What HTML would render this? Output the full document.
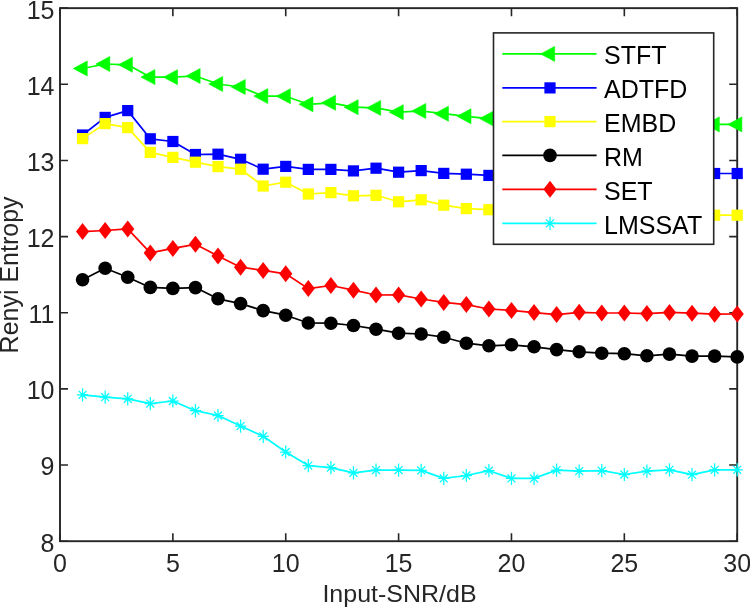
<!DOCTYPE html><html><head><meta charset="utf-8"><style>html,body{margin:0;padding:0;background:#fff;}svg{display:block;filter:blur(0.4px);}</style></head><body>
<svg width="750" height="608" viewBox="0 0 750 608">
<rect width="750" height="608" fill="#fff"/>
<rect x="60.00" y="8.15" width="677.20" height="533.05" fill="none" stroke="#262626" stroke-width="1.9"/>
<path d="M60.00 541.20V533.20M60.00 8.15V16.15M172.87 541.20V533.20M172.87 8.15V16.15M285.73 541.20V533.20M285.73 8.15V16.15M398.60 541.20V533.20M398.60 8.15V16.15M511.47 541.20V533.20M511.47 8.15V16.15M624.33 541.20V533.20M624.33 8.15V16.15M737.20 541.20V533.20M737.20 8.15V16.15M60.00 541.20H68.00M737.20 541.20H729.20M60.00 465.05H68.00M737.20 465.05H729.20M60.00 388.90H68.00M737.20 388.90H729.20M60.00 312.75H68.00M737.20 312.75H729.20M60.00 236.60H68.00M737.20 236.60H729.20M60.00 160.45H68.00M737.20 160.45H729.20M60.00 84.30H68.00M737.20 84.30H729.20M60.00 8.15H68.00M737.20 8.15H729.20" stroke="#262626" stroke-width="1.6" fill="none"/>
<text x="60.00" y="571.5" font-family="Liberation Sans, sans-serif" font-size="25" fill="#262626" text-anchor="middle">0</text>
<text x="172.87" y="571.5" font-family="Liberation Sans, sans-serif" font-size="25" fill="#262626" text-anchor="middle">5</text>
<text x="285.73" y="571.5" font-family="Liberation Sans, sans-serif" font-size="25" fill="#262626" text-anchor="middle">10</text>
<text x="398.60" y="571.5" font-family="Liberation Sans, sans-serif" font-size="25" fill="#262626" text-anchor="middle">15</text>
<text x="511.47" y="571.5" font-family="Liberation Sans, sans-serif" font-size="25" fill="#262626" text-anchor="middle">20</text>
<text x="624.33" y="571.5" font-family="Liberation Sans, sans-serif" font-size="25" fill="#262626" text-anchor="middle">25</text>
<text x="737.20" y="571.5" font-family="Liberation Sans, sans-serif" font-size="25" fill="#262626" text-anchor="middle">30</text>
<text x="54.5" y="551.60" font-family="Liberation Sans, sans-serif" font-size="25" fill="#262626" text-anchor="end">8</text>
<text x="54.5" y="475.45" font-family="Liberation Sans, sans-serif" font-size="25" fill="#262626" text-anchor="end">9</text>
<text x="54.5" y="399.30" font-family="Liberation Sans, sans-serif" font-size="25" fill="#262626" text-anchor="end">10</text>
<text x="54.5" y="323.15" font-family="Liberation Sans, sans-serif" font-size="25" fill="#262626" text-anchor="end">11</text>
<text x="54.5" y="247.00" font-family="Liberation Sans, sans-serif" font-size="25" fill="#262626" text-anchor="end">12</text>
<text x="54.5" y="170.85" font-family="Liberation Sans, sans-serif" font-size="25" fill="#262626" text-anchor="end">13</text>
<text x="54.5" y="94.70" font-family="Liberation Sans, sans-serif" font-size="25" fill="#262626" text-anchor="end">14</text>
<text x="54.5" y="18.55" font-family="Liberation Sans, sans-serif" font-size="25" fill="#262626" text-anchor="end">15</text>
<text transform="translate(399.5,602.3) scale(1,0.975)" x="0" y="0" font-family="Liberation Sans, sans-serif" font-size="25" fill="#262626" text-anchor="middle">Input-SNR/dB</text>
<text transform="translate(17.9,274.9) rotate(-90)" x="0" y="0" font-family="Liberation Sans, sans-serif" font-size="25" fill="#262626" text-anchor="middle">Renyi Entropy</text>
<polyline points="82.57,68.50 105.15,64.00 127.72,64.80 150.29,77.10 172.87,77.20 195.44,76.00 218.01,84.00 240.59,87.00 263.16,96.10 285.73,96.20 308.31,104.30 330.88,102.80 353.45,107.20 376.03,107.90 398.60,112.20 421.17,111.00 443.75,113.70 466.32,116.30 488.89,118.60 511.47,119.50 534.04,120.20 556.61,121.00 579.19,121.60 601.76,122.20 624.33,122.80 646.91,123.30 669.48,123.80 692.05,124.20 714.63,124.40 737.20,124.40" fill="none" stroke="#00FF00" stroke-width="1.7" stroke-linejoin="round"/>
<path d="M73.24 68.50L87.24 61.00L87.24 76.00Z" fill="#00FF00" stroke="#00FF00" stroke-width="0.6"/>
<path d="M95.81 64.00L109.81 56.50L109.81 71.50Z" fill="#00FF00" stroke="#00FF00" stroke-width="0.6"/>
<path d="M118.39 64.80L132.39 57.30L132.39 72.30Z" fill="#00FF00" stroke="#00FF00" stroke-width="0.6"/>
<path d="M140.96 77.10L154.96 69.60L154.96 84.60Z" fill="#00FF00" stroke="#00FF00" stroke-width="0.6"/>
<path d="M163.53 77.20L177.53 69.70L177.53 84.70Z" fill="#00FF00" stroke="#00FF00" stroke-width="0.6"/>
<path d="M186.11 76.00L200.11 68.50L200.11 83.50Z" fill="#00FF00" stroke="#00FF00" stroke-width="0.6"/>
<path d="M208.68 84.00L222.68 76.50L222.68 91.50Z" fill="#00FF00" stroke="#00FF00" stroke-width="0.6"/>
<path d="M231.25 87.00L245.25 79.50L245.25 94.50Z" fill="#00FF00" stroke="#00FF00" stroke-width="0.6"/>
<path d="M253.83 96.10L267.83 88.60L267.83 103.60Z" fill="#00FF00" stroke="#00FF00" stroke-width="0.6"/>
<path d="M276.40 96.20L290.40 88.70L290.40 103.70Z" fill="#00FF00" stroke="#00FF00" stroke-width="0.6"/>
<path d="M298.97 104.30L312.97 96.80L312.97 111.80Z" fill="#00FF00" stroke="#00FF00" stroke-width="0.6"/>
<path d="M321.55 102.80L335.55 95.30L335.55 110.30Z" fill="#00FF00" stroke="#00FF00" stroke-width="0.6"/>
<path d="M344.12 107.20L358.12 99.70L358.12 114.70Z" fill="#00FF00" stroke="#00FF00" stroke-width="0.6"/>
<path d="M366.69 107.90L380.69 100.40L380.69 115.40Z" fill="#00FF00" stroke="#00FF00" stroke-width="0.6"/>
<path d="M389.27 112.20L403.27 104.70L403.27 119.70Z" fill="#00FF00" stroke="#00FF00" stroke-width="0.6"/>
<path d="M411.84 111.00L425.84 103.50L425.84 118.50Z" fill="#00FF00" stroke="#00FF00" stroke-width="0.6"/>
<path d="M434.41 113.70L448.41 106.20L448.41 121.20Z" fill="#00FF00" stroke="#00FF00" stroke-width="0.6"/>
<path d="M456.99 116.30L470.99 108.80L470.99 123.80Z" fill="#00FF00" stroke="#00FF00" stroke-width="0.6"/>
<path d="M479.56 118.60L493.56 111.10L493.56 126.10Z" fill="#00FF00" stroke="#00FF00" stroke-width="0.6"/>
<path d="M502.13 119.50L516.13 112.00L516.13 127.00Z" fill="#00FF00" stroke="#00FF00" stroke-width="0.6"/>
<path d="M524.71 120.20L538.71 112.70L538.71 127.70Z" fill="#00FF00" stroke="#00FF00" stroke-width="0.6"/>
<path d="M547.28 121.00L561.28 113.50L561.28 128.50Z" fill="#00FF00" stroke="#00FF00" stroke-width="0.6"/>
<path d="M569.85 121.60L583.85 114.10L583.85 129.10Z" fill="#00FF00" stroke="#00FF00" stroke-width="0.6"/>
<path d="M592.43 122.20L606.43 114.70L606.43 129.70Z" fill="#00FF00" stroke="#00FF00" stroke-width="0.6"/>
<path d="M615.00 122.80L629.00 115.30L629.00 130.30Z" fill="#00FF00" stroke="#00FF00" stroke-width="0.6"/>
<path d="M637.57 123.30L651.57 115.80L651.57 130.80Z" fill="#00FF00" stroke="#00FF00" stroke-width="0.6"/>
<path d="M660.15 123.80L674.15 116.30L674.15 131.30Z" fill="#00FF00" stroke="#00FF00" stroke-width="0.6"/>
<path d="M682.72 124.20L696.72 116.70L696.72 131.70Z" fill="#00FF00" stroke="#00FF00" stroke-width="0.6"/>
<path d="M705.29 124.40L719.29 116.90L719.29 131.90Z" fill="#00FF00" stroke="#00FF00" stroke-width="0.6"/>
<path d="M727.87 124.40L741.87 116.90L741.87 131.90Z" fill="#00FF00" stroke="#00FF00" stroke-width="0.6"/>
<polyline points="82.57,135.00 105.15,117.40 127.72,110.60 150.29,138.80 172.87,141.50 195.44,154.50 218.01,154.20 240.59,159.30 263.16,169.20 285.73,166.40 308.31,169.40 330.88,169.40 353.45,170.90 376.03,168.20 398.60,172.20 421.17,170.60 443.75,173.40 466.32,174.20 488.89,175.40 511.47,175.00 534.04,174.80 556.61,174.60 579.19,174.40 601.76,174.20 624.33,174.00 646.91,173.80 669.48,173.60 692.05,173.50 714.63,173.50 737.20,173.50" fill="none" stroke="#0000FF" stroke-width="1.7" stroke-linejoin="round"/>
<rect x="76.97" y="129.40" width="11.20" height="11.20" fill="#0000FF"/>
<rect x="99.55" y="111.80" width="11.20" height="11.20" fill="#0000FF"/>
<rect x="122.12" y="105.00" width="11.20" height="11.20" fill="#0000FF"/>
<rect x="144.69" y="133.20" width="11.20" height="11.20" fill="#0000FF"/>
<rect x="167.27" y="135.90" width="11.20" height="11.20" fill="#0000FF"/>
<rect x="189.84" y="148.90" width="11.20" height="11.20" fill="#0000FF"/>
<rect x="212.41" y="148.60" width="11.20" height="11.20" fill="#0000FF"/>
<rect x="234.99" y="153.70" width="11.20" height="11.20" fill="#0000FF"/>
<rect x="257.56" y="163.60" width="11.20" height="11.20" fill="#0000FF"/>
<rect x="280.13" y="160.80" width="11.20" height="11.20" fill="#0000FF"/>
<rect x="302.71" y="163.80" width="11.20" height="11.20" fill="#0000FF"/>
<rect x="325.28" y="163.80" width="11.20" height="11.20" fill="#0000FF"/>
<rect x="347.85" y="165.30" width="11.20" height="11.20" fill="#0000FF"/>
<rect x="370.43" y="162.60" width="11.20" height="11.20" fill="#0000FF"/>
<rect x="393.00" y="166.60" width="11.20" height="11.20" fill="#0000FF"/>
<rect x="415.57" y="165.00" width="11.20" height="11.20" fill="#0000FF"/>
<rect x="438.15" y="167.80" width="11.20" height="11.20" fill="#0000FF"/>
<rect x="460.72" y="168.60" width="11.20" height="11.20" fill="#0000FF"/>
<rect x="483.29" y="169.80" width="11.20" height="11.20" fill="#0000FF"/>
<rect x="505.87" y="169.40" width="11.20" height="11.20" fill="#0000FF"/>
<rect x="528.44" y="169.20" width="11.20" height="11.20" fill="#0000FF"/>
<rect x="551.01" y="169.00" width="11.20" height="11.20" fill="#0000FF"/>
<rect x="573.59" y="168.80" width="11.20" height="11.20" fill="#0000FF"/>
<rect x="596.16" y="168.60" width="11.20" height="11.20" fill="#0000FF"/>
<rect x="618.73" y="168.40" width="11.20" height="11.20" fill="#0000FF"/>
<rect x="641.31" y="168.20" width="11.20" height="11.20" fill="#0000FF"/>
<rect x="663.88" y="168.00" width="11.20" height="11.20" fill="#0000FF"/>
<rect x="686.45" y="167.90" width="11.20" height="11.20" fill="#0000FF"/>
<rect x="709.03" y="167.90" width="11.20" height="11.20" fill="#0000FF"/>
<rect x="731.60" y="167.90" width="11.20" height="11.20" fill="#0000FF"/>
<polyline points="82.57,138.60 105.15,123.60 127.72,127.60 150.29,152.40 172.87,157.40 195.44,162.20 218.01,166.60 240.59,169.20 263.16,186.00 285.73,182.20 308.31,194.00 330.88,192.60 353.45,195.80 376.03,195.30 398.60,201.80 421.17,199.80 443.75,205.20 466.32,208.60 488.89,209.70 511.47,210.20 534.04,210.80 556.61,211.40 579.19,212.00 601.76,212.60 624.33,213.20 646.91,213.80 669.48,214.40 692.05,215.00 714.63,215.20 737.20,215.20" fill="none" stroke="#FFFF00" stroke-width="1.7" stroke-linejoin="round"/>
<rect x="76.97" y="133.00" width="11.20" height="11.20" fill="#FFFF00"/>
<rect x="99.55" y="118.00" width="11.20" height="11.20" fill="#FFFF00"/>
<rect x="122.12" y="122.00" width="11.20" height="11.20" fill="#FFFF00"/>
<rect x="144.69" y="146.80" width="11.20" height="11.20" fill="#FFFF00"/>
<rect x="167.27" y="151.80" width="11.20" height="11.20" fill="#FFFF00"/>
<rect x="189.84" y="156.60" width="11.20" height="11.20" fill="#FFFF00"/>
<rect x="212.41" y="161.00" width="11.20" height="11.20" fill="#FFFF00"/>
<rect x="234.99" y="163.60" width="11.20" height="11.20" fill="#FFFF00"/>
<rect x="257.56" y="180.40" width="11.20" height="11.20" fill="#FFFF00"/>
<rect x="280.13" y="176.60" width="11.20" height="11.20" fill="#FFFF00"/>
<rect x="302.71" y="188.40" width="11.20" height="11.20" fill="#FFFF00"/>
<rect x="325.28" y="187.00" width="11.20" height="11.20" fill="#FFFF00"/>
<rect x="347.85" y="190.20" width="11.20" height="11.20" fill="#FFFF00"/>
<rect x="370.43" y="189.70" width="11.20" height="11.20" fill="#FFFF00"/>
<rect x="393.00" y="196.20" width="11.20" height="11.20" fill="#FFFF00"/>
<rect x="415.57" y="194.20" width="11.20" height="11.20" fill="#FFFF00"/>
<rect x="438.15" y="199.60" width="11.20" height="11.20" fill="#FFFF00"/>
<rect x="460.72" y="203.00" width="11.20" height="11.20" fill="#FFFF00"/>
<rect x="483.29" y="204.10" width="11.20" height="11.20" fill="#FFFF00"/>
<rect x="505.87" y="204.60" width="11.20" height="11.20" fill="#FFFF00"/>
<rect x="528.44" y="205.20" width="11.20" height="11.20" fill="#FFFF00"/>
<rect x="551.01" y="205.80" width="11.20" height="11.20" fill="#FFFF00"/>
<rect x="573.59" y="206.40" width="11.20" height="11.20" fill="#FFFF00"/>
<rect x="596.16" y="207.00" width="11.20" height="11.20" fill="#FFFF00"/>
<rect x="618.73" y="207.60" width="11.20" height="11.20" fill="#FFFF00"/>
<rect x="641.31" y="208.20" width="11.20" height="11.20" fill="#FFFF00"/>
<rect x="663.88" y="208.80" width="11.20" height="11.20" fill="#FFFF00"/>
<rect x="686.45" y="209.40" width="11.20" height="11.20" fill="#FFFF00"/>
<rect x="709.03" y="209.60" width="11.20" height="11.20" fill="#FFFF00"/>
<rect x="731.60" y="209.60" width="11.20" height="11.20" fill="#FFFF00"/>
<polyline points="82.57,279.70 105.15,268.20 127.72,277.20 150.29,287.40 172.87,288.40 195.44,287.60 218.01,298.80 240.59,303.60 263.16,310.60 285.73,315.20 308.31,323.00 330.88,323.20 353.45,325.50 376.03,329.20 398.60,333.20 421.17,334.00 443.75,337.20 466.32,343.20 488.89,345.80 511.47,344.80 534.04,346.80 556.61,349.60 579.19,351.80 601.76,353.20 624.33,353.70 646.91,355.80 669.48,354.10 692.05,356.10 714.63,356.10 737.20,356.90" fill="none" stroke="#000000" stroke-width="1.7" stroke-linejoin="round"/>
<circle cx="82.57" cy="279.70" r="6.80" fill="#000000"/>
<circle cx="105.15" cy="268.20" r="6.80" fill="#000000"/>
<circle cx="127.72" cy="277.20" r="6.80" fill="#000000"/>
<circle cx="150.29" cy="287.40" r="6.80" fill="#000000"/>
<circle cx="172.87" cy="288.40" r="6.80" fill="#000000"/>
<circle cx="195.44" cy="287.60" r="6.80" fill="#000000"/>
<circle cx="218.01" cy="298.80" r="6.80" fill="#000000"/>
<circle cx="240.59" cy="303.60" r="6.80" fill="#000000"/>
<circle cx="263.16" cy="310.60" r="6.80" fill="#000000"/>
<circle cx="285.73" cy="315.20" r="6.80" fill="#000000"/>
<circle cx="308.31" cy="323.00" r="6.80" fill="#000000"/>
<circle cx="330.88" cy="323.20" r="6.80" fill="#000000"/>
<circle cx="353.45" cy="325.50" r="6.80" fill="#000000"/>
<circle cx="376.03" cy="329.20" r="6.80" fill="#000000"/>
<circle cx="398.60" cy="333.20" r="6.80" fill="#000000"/>
<circle cx="421.17" cy="334.00" r="6.80" fill="#000000"/>
<circle cx="443.75" cy="337.20" r="6.80" fill="#000000"/>
<circle cx="466.32" cy="343.20" r="6.80" fill="#000000"/>
<circle cx="488.89" cy="345.80" r="6.80" fill="#000000"/>
<circle cx="511.47" cy="344.80" r="6.80" fill="#000000"/>
<circle cx="534.04" cy="346.80" r="6.80" fill="#000000"/>
<circle cx="556.61" cy="349.60" r="6.80" fill="#000000"/>
<circle cx="579.19" cy="351.80" r="6.80" fill="#000000"/>
<circle cx="601.76" cy="353.20" r="6.80" fill="#000000"/>
<circle cx="624.33" cy="353.70" r="6.80" fill="#000000"/>
<circle cx="646.91" cy="355.80" r="6.80" fill="#000000"/>
<circle cx="669.48" cy="354.10" r="6.80" fill="#000000"/>
<circle cx="692.05" cy="356.10" r="6.80" fill="#000000"/>
<circle cx="714.63" cy="356.10" r="6.80" fill="#000000"/>
<circle cx="737.20" cy="356.90" r="6.80" fill="#000000"/>
<polyline points="82.57,231.60 105.15,230.50 127.72,228.90 150.29,252.90 172.87,248.40 195.44,244.30 218.01,256.00 240.59,267.20 263.16,270.40 285.73,273.80 308.31,288.60 330.88,285.50 353.45,290.20 376.03,295.00 398.60,294.90 421.17,299.00 443.75,302.40 466.32,304.60 488.89,309.00 511.47,310.40 534.04,312.60 556.61,314.60 579.19,312.30 601.76,313.00 624.33,313.00 646.91,313.60 669.48,312.40 692.05,313.20 714.63,314.20 737.20,314.00" fill="none" stroke="#FF0000" stroke-width="1.7" stroke-linejoin="round"/>
<path d="M82.57 223.10L89.17 231.60L82.57 240.10L75.97 231.60Z" fill="#FF0000"/>
<path d="M105.15 222.00L111.75 230.50L105.15 239.00L98.55 230.50Z" fill="#FF0000"/>
<path d="M127.72 220.40L134.32 228.90L127.72 237.40L121.12 228.90Z" fill="#FF0000"/>
<path d="M150.29 244.40L156.89 252.90L150.29 261.40L143.69 252.90Z" fill="#FF0000"/>
<path d="M172.87 239.90L179.47 248.40L172.87 256.90L166.27 248.40Z" fill="#FF0000"/>
<path d="M195.44 235.80L202.04 244.30L195.44 252.80L188.84 244.30Z" fill="#FF0000"/>
<path d="M218.01 247.50L224.61 256.00L218.01 264.50L211.41 256.00Z" fill="#FF0000"/>
<path d="M240.59 258.70L247.19 267.20L240.59 275.70L233.99 267.20Z" fill="#FF0000"/>
<path d="M263.16 261.90L269.76 270.40L263.16 278.90L256.56 270.40Z" fill="#FF0000"/>
<path d="M285.73 265.30L292.33 273.80L285.73 282.30L279.13 273.80Z" fill="#FF0000"/>
<path d="M308.31 280.10L314.91 288.60L308.31 297.10L301.71 288.60Z" fill="#FF0000"/>
<path d="M330.88 277.00L337.48 285.50L330.88 294.00L324.28 285.50Z" fill="#FF0000"/>
<path d="M353.45 281.70L360.05 290.20L353.45 298.70L346.85 290.20Z" fill="#FF0000"/>
<path d="M376.03 286.50L382.63 295.00L376.03 303.50L369.43 295.00Z" fill="#FF0000"/>
<path d="M398.60 286.40L405.20 294.90L398.60 303.40L392.00 294.90Z" fill="#FF0000"/>
<path d="M421.17 290.50L427.77 299.00L421.17 307.50L414.57 299.00Z" fill="#FF0000"/>
<path d="M443.75 293.90L450.35 302.40L443.75 310.90L437.15 302.40Z" fill="#FF0000"/>
<path d="M466.32 296.10L472.92 304.60L466.32 313.10L459.72 304.60Z" fill="#FF0000"/>
<path d="M488.89 300.50L495.49 309.00L488.89 317.50L482.29 309.00Z" fill="#FF0000"/>
<path d="M511.47 301.90L518.07 310.40L511.47 318.90L504.87 310.40Z" fill="#FF0000"/>
<path d="M534.04 304.10L540.64 312.60L534.04 321.10L527.44 312.60Z" fill="#FF0000"/>
<path d="M556.61 306.10L563.21 314.60L556.61 323.10L550.01 314.60Z" fill="#FF0000"/>
<path d="M579.19 303.80L585.79 312.30L579.19 320.80L572.59 312.30Z" fill="#FF0000"/>
<path d="M601.76 304.50L608.36 313.00L601.76 321.50L595.16 313.00Z" fill="#FF0000"/>
<path d="M624.33 304.50L630.93 313.00L624.33 321.50L617.73 313.00Z" fill="#FF0000"/>
<path d="M646.91 305.10L653.51 313.60L646.91 322.10L640.31 313.60Z" fill="#FF0000"/>
<path d="M669.48 303.90L676.08 312.40L669.48 320.90L662.88 312.40Z" fill="#FF0000"/>
<path d="M692.05 304.70L698.65 313.20L692.05 321.70L685.45 313.20Z" fill="#FF0000"/>
<path d="M714.63 305.70L721.23 314.20L714.63 322.70L708.03 314.20Z" fill="#FF0000"/>
<path d="M737.20 305.50L743.80 314.00L737.20 322.50L730.60 314.00Z" fill="#FF0000"/>
<polyline points="82.57,394.80 105.15,397.20 127.72,398.80 150.29,403.60 172.87,401.00 195.44,410.70 218.01,415.50 240.59,426.10 263.16,436.30 285.73,452.00 308.31,465.60 330.88,467.70 353.45,472.80 376.03,470.10 398.60,470.10 421.17,470.40 443.75,478.40 466.32,475.50 488.89,470.70 511.47,478.40 534.04,478.40 556.61,470.10 579.19,471.20 601.76,470.70 624.33,474.50 646.91,471.20 669.48,469.80 692.05,474.70 714.63,469.80 737.20,469.80" fill="none" stroke="#00FFFF" stroke-width="1.7" stroke-linejoin="round"/>
<path d="M76.97 394.80L88.17 394.80M82.57 388.20L82.57 401.40M78.61 390.84L86.53 398.76M78.61 398.76L86.53 390.84" stroke="#00FFFF" stroke-width="1.25" fill="none"/>
<path d="M99.55 397.20L110.75 397.20M105.15 390.60L105.15 403.80M101.19 393.24L109.11 401.16M101.19 401.16L109.11 393.24" stroke="#00FFFF" stroke-width="1.25" fill="none"/>
<path d="M122.12 398.80L133.32 398.80M127.72 392.20L127.72 405.40M123.76 394.84L131.68 402.76M123.76 402.76L131.68 394.84" stroke="#00FFFF" stroke-width="1.25" fill="none"/>
<path d="M144.69 403.60L155.89 403.60M150.29 397.00L150.29 410.20M146.33 399.64L154.25 407.56M146.33 407.56L154.25 399.64" stroke="#00FFFF" stroke-width="1.25" fill="none"/>
<path d="M167.27 401.00L178.47 401.00M172.87 394.40L172.87 407.60M168.91 397.04L176.83 404.96M168.91 404.96L176.83 397.04" stroke="#00FFFF" stroke-width="1.25" fill="none"/>
<path d="M189.84 410.70L201.04 410.70M195.44 404.10L195.44 417.30M191.48 406.74L199.40 414.66M191.48 414.66L199.40 406.74" stroke="#00FFFF" stroke-width="1.25" fill="none"/>
<path d="M212.41 415.50L223.61 415.50M218.01 408.90L218.01 422.10M214.05 411.54L221.97 419.46M214.05 419.46L221.97 411.54" stroke="#00FFFF" stroke-width="1.25" fill="none"/>
<path d="M234.99 426.10L246.19 426.10M240.59 419.50L240.59 432.70M236.63 422.14L244.55 430.06M236.63 430.06L244.55 422.14" stroke="#00FFFF" stroke-width="1.25" fill="none"/>
<path d="M257.56 436.30L268.76 436.30M263.16 429.70L263.16 442.90M259.20 432.34L267.12 440.26M259.20 440.26L267.12 432.34" stroke="#00FFFF" stroke-width="1.25" fill="none"/>
<path d="M280.13 452.00L291.33 452.00M285.73 445.40L285.73 458.60M281.77 448.04L289.69 455.96M281.77 455.96L289.69 448.04" stroke="#00FFFF" stroke-width="1.25" fill="none"/>
<path d="M302.71 465.60L313.91 465.60M308.31 459.00L308.31 472.20M304.35 461.64L312.27 469.56M304.35 469.56L312.27 461.64" stroke="#00FFFF" stroke-width="1.25" fill="none"/>
<path d="M325.28 467.70L336.48 467.70M330.88 461.10L330.88 474.30M326.92 463.74L334.84 471.66M326.92 471.66L334.84 463.74" stroke="#00FFFF" stroke-width="1.25" fill="none"/>
<path d="M347.85 472.80L359.05 472.80M353.45 466.20L353.45 479.40M349.49 468.84L357.41 476.76M349.49 476.76L357.41 468.84" stroke="#00FFFF" stroke-width="1.25" fill="none"/>
<path d="M370.43 470.10L381.63 470.10M376.03 463.50L376.03 476.70M372.07 466.14L379.99 474.06M372.07 474.06L379.99 466.14" stroke="#00FFFF" stroke-width="1.25" fill="none"/>
<path d="M393.00 470.10L404.20 470.10M398.60 463.50L398.60 476.70M394.64 466.14L402.56 474.06M394.64 474.06L402.56 466.14" stroke="#00FFFF" stroke-width="1.25" fill="none"/>
<path d="M415.57 470.40L426.77 470.40M421.17 463.80L421.17 477.00M417.21 466.44L425.13 474.36M417.21 474.36L425.13 466.44" stroke="#00FFFF" stroke-width="1.25" fill="none"/>
<path d="M438.15 478.40L449.35 478.40M443.75 471.80L443.75 485.00M439.79 474.44L447.71 482.36M439.79 482.36L447.71 474.44" stroke="#00FFFF" stroke-width="1.25" fill="none"/>
<path d="M460.72 475.50L471.92 475.50M466.32 468.90L466.32 482.10M462.36 471.54L470.28 479.46M462.36 479.46L470.28 471.54" stroke="#00FFFF" stroke-width="1.25" fill="none"/>
<path d="M483.29 470.70L494.49 470.70M488.89 464.10L488.89 477.30M484.93 466.74L492.85 474.66M484.93 474.66L492.85 466.74" stroke="#00FFFF" stroke-width="1.25" fill="none"/>
<path d="M505.87 478.40L517.07 478.40M511.47 471.80L511.47 485.00M507.51 474.44L515.43 482.36M507.51 482.36L515.43 474.44" stroke="#00FFFF" stroke-width="1.25" fill="none"/>
<path d="M528.44 478.40L539.64 478.40M534.04 471.80L534.04 485.00M530.08 474.44L538.00 482.36M530.08 482.36L538.00 474.44" stroke="#00FFFF" stroke-width="1.25" fill="none"/>
<path d="M551.01 470.10L562.21 470.10M556.61 463.50L556.61 476.70M552.65 466.14L560.57 474.06M552.65 474.06L560.57 466.14" stroke="#00FFFF" stroke-width="1.25" fill="none"/>
<path d="M573.59 471.20L584.79 471.20M579.19 464.60L579.19 477.80M575.23 467.24L583.15 475.16M575.23 475.16L583.15 467.24" stroke="#00FFFF" stroke-width="1.25" fill="none"/>
<path d="M596.16 470.70L607.36 470.70M601.76 464.10L601.76 477.30M597.80 466.74L605.72 474.66M597.80 474.66L605.72 466.74" stroke="#00FFFF" stroke-width="1.25" fill="none"/>
<path d="M618.73 474.50L629.93 474.50M624.33 467.90L624.33 481.10M620.37 470.54L628.29 478.46M620.37 478.46L628.29 470.54" stroke="#00FFFF" stroke-width="1.25" fill="none"/>
<path d="M641.31 471.20L652.51 471.20M646.91 464.60L646.91 477.80M642.95 467.24L650.87 475.16M642.95 475.16L650.87 467.24" stroke="#00FFFF" stroke-width="1.25" fill="none"/>
<path d="M663.88 469.80L675.08 469.80M669.48 463.20L669.48 476.40M665.52 465.84L673.44 473.76M665.52 473.76L673.44 465.84" stroke="#00FFFF" stroke-width="1.25" fill="none"/>
<path d="M686.45 474.70L697.65 474.70M692.05 468.10L692.05 481.30M688.09 470.74L696.01 478.66M688.09 478.66L696.01 470.74" stroke="#00FFFF" stroke-width="1.25" fill="none"/>
<path d="M709.03 469.80L720.23 469.80M714.63 463.20L714.63 476.40M710.67 465.84L718.59 473.76M710.67 473.76L718.59 465.84" stroke="#00FFFF" stroke-width="1.25" fill="none"/>
<path d="M731.60 469.80L742.80 469.80M737.20 463.20L737.20 476.40M733.24 465.84L741.16 473.76M733.24 473.76L741.16 465.84" stroke="#00FFFF" stroke-width="1.25" fill="none"/>
<rect x="493.50" y="32.90" width="220.20" height="211.40" fill="#fff" stroke="#262626" stroke-width="1.6"/>
<line x1="502.3" y1="53.90" x2="596.6" y2="53.90" stroke="#00FF00" stroke-width="1.7"/>
<path d="M540.67 53.90L554.67 46.40L554.67 61.40Z" fill="#00FF00" stroke="#00FF00" stroke-width="0.6"/>
<text x="604.0" y="64.20" font-family="Liberation Sans, sans-serif" font-size="25" fill="#000">STFT</text>
<line x1="502.3" y1="87.90" x2="596.6" y2="87.90" stroke="#0000FF" stroke-width="1.7"/>
<rect x="544.40" y="82.30" width="11.20" height="11.20" fill="#0000FF"/>
<text x="604.0" y="98.20" font-family="Liberation Sans, sans-serif" font-size="25" fill="#000">ADTFD</text>
<line x1="502.3" y1="121.60" x2="596.6" y2="121.60" stroke="#FFFF00" stroke-width="1.7"/>
<rect x="544.40" y="116.00" width="11.20" height="11.20" fill="#FFFF00"/>
<text x="604.0" y="131.90" font-family="Liberation Sans, sans-serif" font-size="25" fill="#000">EMBD</text>
<line x1="502.3" y1="155.40" x2="596.6" y2="155.40" stroke="#000000" stroke-width="1.7"/>
<circle cx="550.00" cy="155.40" r="6.80" fill="#000000"/>
<text x="604.0" y="165.70" font-family="Liberation Sans, sans-serif" font-size="25" fill="#000">RM</text>
<line x1="502.3" y1="189.30" x2="596.6" y2="189.30" stroke="#FF0000" stroke-width="1.7"/>
<path d="M550.00 180.80L556.60 189.30L550.00 197.80L543.40 189.30Z" fill="#FF0000"/>
<text x="604.0" y="199.60" font-family="Liberation Sans, sans-serif" font-size="25" fill="#000">SET</text>
<line x1="502.3" y1="223.30" x2="596.6" y2="223.30" stroke="#00FFFF" stroke-width="1.7"/>
<path d="M544.40 223.30L555.60 223.30M550.00 216.70L550.00 229.90M546.04 219.34L553.96 227.26M546.04 227.26L553.96 219.34" stroke="#00FFFF" stroke-width="1.25" fill="none"/>
<text x="604.0" y="233.60" font-family="Liberation Sans, sans-serif" font-size="25" fill="#000">LMSSAT</text>
</svg></body></html>
